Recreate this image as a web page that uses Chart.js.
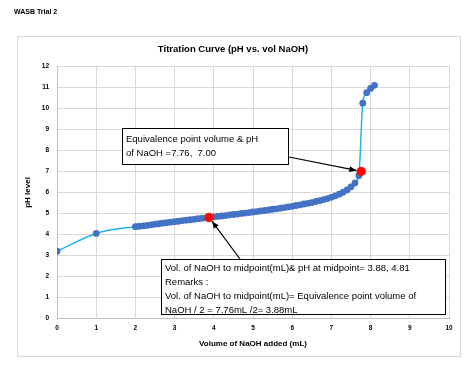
<!DOCTYPE html>
<html>
<head>
<meta charset="utf-8">
<script src="https://cdn.jsdelivr.net/npm/chart.js@4/dist/chart.umd.min.js"></script>
<style>
  body { margin: 0; background: #fff; }
  canvas { display: block; }
</style>
</head>
<body>
<canvas id="titrationCanvas" width="473" height="368"></canvas>
<script>
// ------DATA--------
const volNaOH = [0, 1, 2, 2.1, 2.2, 2.3, 2.4, 2.5, 2.6, 2.7, 2.8, 2.9,
    3, 3.1, 3.2, 3.3, 3.4, 3.5, 3.6, 3.7, 3.8, 3.9,
    4, 4.1, 4.2, 4.3, 4.4, 4.5, 4.6, 4.7, 4.8, 4.9,
    5, 5.1, 5.2, 5.3, 5.4, 5.5, 5.6, 5.7, 5.8, 5.9,
    6, 6.1, 6.2, 6.3, 6.4, 6.5, 6.6, 6.7, 6.8, 6.9,
    7, 7.1, 7.2, 7.3, 7.4, 7.5, 7.6, 7.7, 7.8, 7.9, 8, 8.1];
const phValues = [3.2, 4.05, 4.37, 4.39, 4.41, 4.43, 4.46, 4.49, 4.51, 4.54, 4.56, 4.59,
    4.61, 4.63, 4.66, 4.68, 4.70, 4.72, 4.75, 4.77, 4.79, 4.81,
    4.84, 4.86, 4.88, 4.90, 4.93, 4.95, 4.97, 5.00, 5.02, 5.04,
    5.07, 5.09, 5.12, 5.14, 5.17, 5.20, 5.22, 5.25, 5.28, 5.31,
    5.34, 5.38, 5.41, 5.45, 5.48, 5.52, 5.57, 5.61, 5.66, 5.71,
    5.77, 5.84, 5.92, 6.01, 6.12, 6.27, 6.45, 6.80, 10.25, 10.75, 10.95, 11.1];

// midpoint and equivalence point
const keyVol = [3.88, 7.76];
const keyPh = [4.81, 7.00];

const chartTitle = "Titration Curve (pH vs. vol NaOH)";
const sheetLabel = "WASB Trial 2";
const xTitle = "Volume of NaOH added (mL)";
const yTitle = "pH level";
const eqNote = ["Equivalence point volume & pH", "of NaOH =7.76,  7.00"];
const midNote = ["Vol. of NaOH to midpoint(mL)& pH at midpoint= 3.88, 4.81",
    "Remarks :",
    "Vol. of NaOH to midpoint(mL)= Equivalence point volume of",
    "NaOH / 2 = 7.76mL /2= 3.88mL"];

const FONT = "'Liberation Sans', Arial, sans-serif";

// ------PLUGINS--------
const framePlugin = {
    id: "frame",
    beforeDraw(chart) {
        const ctx = chart.ctx;
        ctx.save();
        ctx.fillStyle = "#fff";
        ctx.fillRect(0, 0, chart.width, chart.height);
        ctx.strokeStyle = "#d9d9d9";
        ctx.lineWidth = 1;
        ctx.strokeRect(17.5, 36.5, 443, 320);
        ctx.fillStyle = "#000";
        ctx.font = "bold 7px " + FONT;
        ctx.textBaseline = "middle";
        ctx.fillText(sheetLabel, 14, 12);
        ctx.restore();
    }
};

function arrow(ctx, x1, y1, x2, y2, stopShort) {
    const ang = Math.atan2(y2 - y1, x2 - x1);
    const ex = x2 - Math.cos(ang) * stopShort;
    const ey = y2 - Math.sin(ang) * stopShort;
    ctx.beginPath();
    ctx.moveTo(x1, y1);
    ctx.lineTo(ex, ey);
    ctx.stroke();
    const len = 7, wid = 3;
    ctx.beginPath();
    ctx.moveTo(ex, ey);
    ctx.lineTo(ex - len * Math.cos(ang) + wid * Math.sin(ang), ey - len * Math.sin(ang) - wid * Math.cos(ang));
    ctx.lineTo(ex - len * Math.cos(ang) - wid * Math.sin(ang), ey - len * Math.sin(ang) + wid * Math.cos(ang));
    ctx.closePath();
    ctx.fill();
}

function noteBox(ctx, x, y, w, h, lines, lineGap, firstY) {
    ctx.fillStyle = "#fff";
    ctx.fillRect(x, y, w, h);
    ctx.strokeStyle = "#000";
    ctx.lineWidth = 1;
    ctx.strokeRect(x + 0.5, y + 0.5, w, h);
    ctx.fillStyle = "#000";
    ctx.font = "9.5px " + FONT;
    ctx.textBaseline = "middle";
    lines.forEach((t, i) => ctx.fillText(t, x + 4, y + firstY + i * lineGap));
}

const notesPlugin = {
    id: "notes",
    afterDraw(chart) {
        const ctx = chart.ctx;
        const sx = chart.scales.x, sy = chart.scales.y;
        const midX = sx.getPixelForValue(keyVol[0]), midY = sy.getPixelForValue(keyPh[0]);
        const eqX = sx.getPixelForValue(keyVol[1]), eqY = sy.getPixelForValue(keyPh[1]);
        ctx.save();
        ctx.strokeStyle = "#000";
        ctx.fillStyle = "#000";
        ctx.lineWidth = 1.2;
        arrow(ctx, 289, 157, eqX, eqY, 5);
        arrow(ctx, 240, 259, midX, midY, 5);
        noteBox(ctx, 122, 128, 166, 36, eqNote, 14, 11);
        noteBox(ctx, 161, 259, 284, 55, midNote, 14, 9.5);
        ctx.restore();
    }
};

// ------CHART--------
const titrationCanvas = document.getElementById("titrationCanvas");

const titrationChart = new Chart(titrationCanvas, {
    type: "scatter",
    data: {
        datasets: [
            {
                label: "Key points",
                data: keyVol.map((v, i) => ({ x: v, y: keyPh[i] })),
                backgroundColor: "#ff0000",
                borderColor: "#e03c00",
                borderWidth: 0.5,
                pointRadius: 4.5,
                order: 0
            },
            {
                label: "pH",
                data: volNaOH.map((v, i) => ({ x: v, y: phValues[i] })),
                showLine: true,
                borderColor: "#1fb4ef",
                borderWidth: 1.5,
                cubicInterpolationMode: "monotone",
                backgroundColor: "#4472c4",
                pointBackgroundColor: "#4472c4",
                pointBorderWidth: 0,
                pointRadius: 3.4,
                order: 1
            }
        ]
    },
    options: {
        responsive: false,
        animation: false,
        layout: { padding: { left: 17, top: 36, right: 24, bottom: 11 } },
        plugins: {
            legend: { display: false },
            tooltip: { enabled: false },
            title: {
                display: true,
                text: chartTitle,
                color: "#000",
                font: { family: FONT, size: 9.5, weight: "bold" },
                padding: { top: 8, bottom: 11 }
            }
        },
        scales: {
            x: {
                type: "linear",
                min: 0,
                max: 10,
                ticks: { stepSize: 1, color: "#000", font: { family: FONT, size: 6.5, weight: "bold" }, padding: 6 },
                grid: { color: "#d9d9d9", drawTicks: false },
                border: { color: "#bfbfbf" },
                title: { display: true, text: xTitle, color: "#000", font: { family: FONT, size: 8, weight: "bold" }, padding: { top: 0, bottom: 8 } },
                afterFit(scale) { scale.height = 38.5; }
            },
            y: {
                min: 0,
                max: 12,
                ticks: { stepSize: 1, color: "#000", font: { family: FONT, size: 6.5, weight: "bold" }, padding: 8 },
                grid: { color: "#d9d9d9", drawTicks: false },
                border: { color: "#bfbfbf" },
                title: { display: true, text: yTitle, color: "#000", font: { family: FONT, size: 8, weight: "bold" }, padding: { top: 6, bottom: 0 } },
                afterFit(scale) { scale.width = 40; }
            }
        }
    },
    plugins: [framePlugin, notesPlugin]
});
</script>
</body>
</html>
